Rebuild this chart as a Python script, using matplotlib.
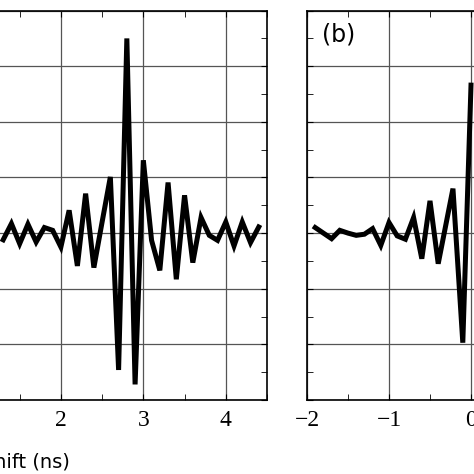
import matplotlib
matplotlib.use("Agg")
import matplotlib.pyplot as plt
from matplotlib.ticker import MultipleLocator

xa = [1.3,1.4,1.5,1.6,1.7,1.8,1.9,2.0,2.1,2.2,2.3,2.4,2.5,2.6,2.7,2.8,2.9,3.0,3.1,3.2,3.3,3.4,3.5,3.6,3.7,3.8,3.9,4.0,4.1,4.2,4.3,4.4]
ya = [-0.12,0.17,-0.19,0.16,-0.16,0.10,0.05,-0.25,0.41,-0.59,0.71,-0.62,0.2,1.01,-2.46,3.50,-2.72,1.31,-0.13,-0.67,0.91,-0.83,0.68,-0.53,0.28,-0.04,-0.13,0.2,-0.23,0.2,-0.17,0.11]
xb = [-1.9,-1.8,-1.7,-1.6,-1.5,-1.4,-1.3,-1.2,-1.1,-1.0,-0.9,-0.8,-0.7,-0.6,-0.5,-0.4,-0.22,-0.1,0.0]
yb = [0.10,0.0,-0.1,0.05,0.0,-0.04,-0.02,0.08,-0.22,0.19,-0.05,-0.11,0.28,-0.46,0.58,-0.55,0.80,-1.97,2.66]

W = 474
fig = plt.figure(figsize=(4.74, 4.74), dpi=100)
def px(x0, x1, y0, y1):
    return [x0/W, 1-y1/W, (x1-x0)/W, (y1-y0)/W]

ax1 = fig.add_axes(px(-104, 267, 10.6, 400))
ax2 = fig.add_axes(px(307, 635, 10.6, 400))
for ax, x, y, xl in [(ax1, xa, ya, (0, 4.5)), (ax2, xb, yb, (-2, 2))]:
    ax.plot(x, y, color='black', lw=3.6, solid_joinstyle='miter')
    ax.set_xlim(*xl)
    ax.set_ylim(-3, 4)
    ax.xaxis.set_major_locator(MultipleLocator(1))
    ax.xaxis.set_minor_locator(MultipleLocator(0.5))
    ax.yaxis.set_major_locator(MultipleLocator(1))
    ax.yaxis.set_minor_locator(MultipleLocator(0.5))
    ax.grid(True, which='major', color='#555555', lw=0.9)
    ax.tick_params(which='both', direction='in', top=True, right=True, length=4, labelleft=False)
    ax.tick_params(axis='x', labelsize=17, pad=7)
    for s in ax.spines.values():
        s.set_linewidth(1.2)
ax1.set_xticks([0,1,2,3,4]); ax1.set_xticklabels(['0','1','2','3','4'])
ax2.set_xticks([-2,-1,0,1,2]); ax2.set_xticklabels(['\u22122','\u22121','0','1','2'])
for t in ax1.get_xticklabels()+ax2.get_xticklabels():
    t.set_family('Liberation Serif')
ax2.text(0.045, 0.97, '(b)', transform=ax2.transAxes, fontsize=17, va='top', ha='left')
fig.text(70/W, 1-462/W, 'Time shift (ns)', ha='right', va='center', fontsize=14)
fig.savefig('out.png', dpi=100)
